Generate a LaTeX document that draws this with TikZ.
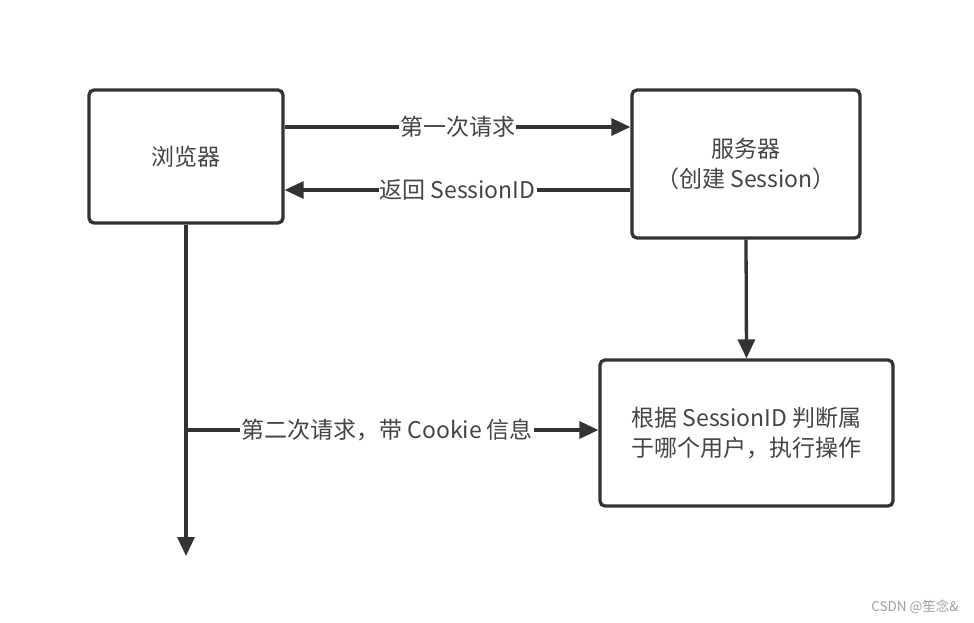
\documentclass[tikz,border=0pt]{standalone}
\usepackage{fontspec}
\setmainfont{Noto Sans CJK SC}
\usetikzlibrary{arrows.meta}
\definecolor{linec}{HTML}{333333}
\definecolor{textc}{HTML}{454545}
\tikzset{
  box/.style={draw=linec, line width=3.3pt, rounded corners=5pt, fill=white, text=textc, align=center, font=\fontsize{23}{30}\selectfont},
  conn/.style={draw=linec, line width=3.3pt, -{Triangle[length=19pt,width=17pt]}},
  lbl/.style={fill=white, inner sep=1pt, text=textc, font=\fontsize{23}{26}\selectfont}
}
\begin{document}
\begin{tikzpicture}[x=1pt,y=-1pt]
\useasboundingbox[fill=white] (0,0) rectangle (974,622);
\node[box, minimum width=194pt, minimum height=133pt] (browser) at (186,156.5) {浏览器};
\node[box, minimum width=228pt, minimum height=148pt] (server) at (746,164) {服务器\\（创建 Session）};
\node[box, minimum width=293pt, minimum height=146pt] (judge) at (746.5,433) {根据 SessionID 判断属\\于哪个用户，执行操作};
\coordinate (br) at (186,430);
\coordinate (bend) at (186,556);
\draw[conn] (browser.east |- 0,127) -- node[lbl] {第一次请求} (server.west |- 0,127);
\draw[conn] (server.west |- 0,190) -- node[lbl] {返回 SessionID} (browser.east |- 0,190);
\draw[conn] (server.south) -- (judge.north);
\draw[conn] (browser.south) -- (bend);
\draw[conn] (br) -- node[lbl, xshift=-5pt] {第二次请求，带 Cookie 信息} (judge.west |- br);
\node[text=gray!75, font=\fontsize{13.5}{15}\selectfont] (wm) at (915,607) {CSDN @笙念\&};
\end{tikzpicture}
\end{document}
